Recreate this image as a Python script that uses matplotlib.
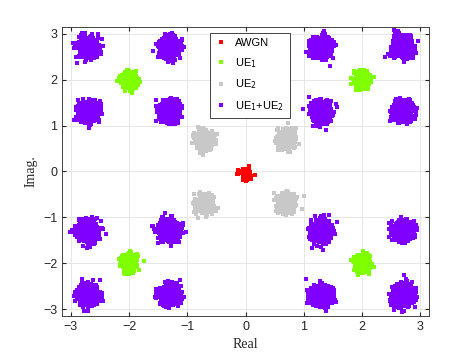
import numpy as np
import matplotlib.pyplot as plt

# cluster centres
awgn_re = [0.0]
awgn_im = [-0.05]
ue1_re = [-2.0, 2.0, -2.0, 2.0]
ue1_im = [2.0, 2.0, -2.0, -2.0]
ue2_re = [-0.7, 0.7, -0.7, 0.7]
ue2_im = [0.7, 0.7, -0.7, -0.7]
sum_re = [-2.7, -1.3, 1.3, 2.7, -2.7, -1.3, 1.3, 2.7,
          -2.7, -1.3, 1.3, 2.7, -2.7, -1.3, 1.3, 2.7]
sum_im = [2.7, 2.7, 2.7, 2.7, 1.3, 1.3, 1.3, 1.3,
          -1.3, -1.3, -1.3, -1.3, -2.7, -2.7, -2.7, -2.7]

# noise spread of each cloud (estimated), (real, imag)
spread = {'AWGN': (0.05, 0.065), 'UE1': (0.065, 0.085),
          'UE2': (0.075, 0.1), 'SUM': (0.085, 0.11)}

rng = np.random.default_rng(3)

def cloud(cx, cy, s, n):
    xs, ys = [], []
    for x0, y0 in zip(cx, cy):
        xs.append(x0 + s[0] * rng.standard_normal(n))
        ys.append(y0 + s[1] * rng.standard_normal(n))
    return np.concatenate(xs), np.concatenate(ys)

fig = plt.figure(figsize=(4.74, 3.55), dpi=100)
ax = fig.add_axes([0.131, 0.11, 0.774, 0.814])

series = [
    ('AWGN', awgn_re, awgn_im, spread['AWGN'], '#ff0000', 60),
    ('UE$_1$', ue1_re, ue1_im, spread['UE1'], '#80ff00', 400),
    ('UE$_2$', ue2_re, ue2_im, spread['UE2'], '#c8c8c8', 400),
    ('UE$_1$+UE$_2$', sum_re, sum_im, spread['SUM'], '#8000ff', 600),
]
for label, cx, cy, s, col, n in series:
    x, y = cloud(cx, cy, s, n)
    ax.plot(x, y, 's', color=col, markersize=2.7, markeredgewidth=0,
            linestyle='none', label=label)

ax.set_xlim(-3.15, 3.15)
ax.set_ylim(-3.15, 3.15)
ax.set_xticks(range(-3, 4))
ax.set_yticks(range(-3, 4))
ax.grid(True, color='#e6e6e6', linewidth=0.7)
ax.set_axisbelow(True)
ax.tick_params(direction='in', length=3, labelsize=9, colors='#262626',
               top=True, right=True)
for sp in ax.spines.values():
    sp.set_color('#262626')
    sp.set_linewidth(0.6)
for lab in ax.get_xticklabels() + ax.get_yticklabels():
    lab.set_family('Liberation Sans')

ax.set_xlabel('Real', family='Liberation Serif', fontsize=10, color='#262626')
ax.set_ylabel('Imag.', family='Liberation Serif', fontsize=10, color='#262626')

leg = ax.legend(loc='upper center', bbox_to_anchor=(0.512, 1.0),
                prop={'family': 'Liberation Sans', 'size': 8},
                fancybox=False, edgecolor='#262626', framealpha=1,
                markerscale=1.0, handlelength=1.0, handletextpad=0.8,
                labelspacing=0.7, borderpad=0.5)
leg.get_frame().set_linewidth(0.6)

fig.savefig('out.png', dpi=100)
